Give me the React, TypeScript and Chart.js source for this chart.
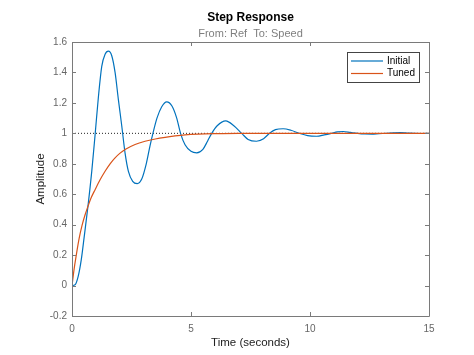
import React, { useEffect, useRef } from "react";
import { Chart, registerables } from "chart.js";

Chart.register(...registerables);

// ---- data ----
const timeInitial = [0, 0.13, 0.26, 0.39, 0.52, 0.67, 0.83, 0.97, 1.11, 1.25, 1.39, 1.53, 1.67, 1.81, 1.95, 2.09, 2.23, 2.37, 2.55, 2.74, 2.93, 3.12, 3.28, 3.4, 3.57, 3.77, 3.98, 4.2, 4.4, 4.56, 4.75, 5.0, 5.24, 5.5, 5.7, 5.87, 6.1, 6.46, 6.8, 7.13, 7.4, 7.75, 8.05, 8.3, 8.55, 8.87, 9.2, 9.55, 9.9, 10.28, 10.6, 10.9, 11.15, 11.4, 11.7, 12.0, 12.3, 12.6, 12.9, 13.2, 13.5, 13.8, 14.1, 14.4, 14.7, 15];
const ampInitial = [0, 0.005, 0.06, 0.17, 0.33, 0.52, 0.75, 0.99, 1.24, 1.44, 1.52, 1.54, 1.51, 1.4, 1.22, 1.05, 0.87, 0.75, 0.685, 0.67, 0.7, 0.8, 0.92, 1.0, 1.1, 1.175, 1.207, 1.18, 1.1, 1.0, 0.925, 0.882, 0.872, 0.895, 0.95, 1.0, 1.05, 1.082, 1.05, 1.0, 0.96, 0.948, 0.965, 1.0, 1.024, 1.03, 1.02, 1.0, 0.985, 0.981, 0.99, 1.0, 1.009, 1.012, 1.006, 1.0, 0.996, 0.995, 0.998, 1.0, 1.003, 1.004, 1.002, 1.0, 0.999, 1.0];
const timeTuned = [0, 0.09, 0.18, 0.3, 0.43, 0.55, 0.67, 0.8, 0.97, 1.18, 1.39, 1.6, 1.81, 2.02, 2.23, 2.65, 3.07, 3.5, 3.91, 4.33, 4.75, 5.3, 6.0, 7.0, 9.0, 12.0, 15.0];
const ampTuned = [0, 0.11, 0.2, 0.31, 0.4, 0.465, 0.52, 0.575, 0.63, 0.695, 0.751, 0.8, 0.839, 0.87, 0.894, 0.927, 0.948, 0.963, 0.974, 0.983, 0.99, 0.995, 0.998, 1.0, 1.0, 1.0, 1.0];
const steadyTime = [0, 15];
const steadyAmp = [1, 1];
const seriesNames = ["Initial", "Tuned"];
const xTickValues = [0, 5, 10, 15];
const yTickValues = [-0.2, 0, 0.2, 0.4, 0.6, 0.8, 1, 1.2, 1.4, 1.6];
const titleText = "Step Response";
const subtitleText = "From: Ref  To: Speed";
const xAxisTitle = "Time (seconds)";
const yAxisTitle = "Amplitude";

const BLUE = "#0072BD";
const ORANGE = "#D95319";
const FONT = "'Liberation Sans', Arial, Helvetica, sans-serif";

const toPoints = (xs: number[], ys: number[]) => xs.map((x, i) => ({ x, y: ys[i] }));

const framePlugin = {
  id: "matlabFrame",
  afterDatasetsDraw(chart: any) {
    const { ctx, chartArea } = chart;
    const { left, right, top, bottom } = chartArea;
    const xs = chart.scales.x;
    const ys = chart.scales.y;
    ctx.save();
    ctx.strokeStyle = "#7a7a7a";
    ctx.lineWidth = 1;
    ctx.beginPath();
    ctx.rect(Math.round(left) + 0.5, Math.round(top) + 0.5, Math.round(right - left), Math.round(bottom - top));
    ctx.stroke();
    const tl = 4;
    ctx.beginPath();
    xTickValues.forEach((v) => {
      const px = Math.round(xs.getPixelForValue(v)) + 0.5;
      ctx.moveTo(px, bottom);
      ctx.lineTo(px, bottom - tl);
      ctx.moveTo(px, top);
      ctx.lineTo(px, top + tl);
    });
    yTickValues.forEach((v) => {
      const py = Math.round(ys.getPixelForValue(v)) + 0.5;
      ctx.moveTo(left, py);
      ctx.lineTo(left + tl, py);
      ctx.moveTo(right, py);
      ctx.lineTo(right - tl, py);
    });
    ctx.stroke();

    // legend box
    const bx = 347.5, by = 52.5, bw = 72, bh = 30;
    ctx.fillStyle = "#ffffff";
    ctx.fillRect(bx, by, bw, bh);
    ctx.strokeStyle = "#444444";
    ctx.strokeRect(bx, by, bw, bh);
    const colors = [BLUE, ORANGE];
    const rows = [61, 73.5];
    ctx.font = `10px ${FONT}`;
    ctx.textBaseline = "middle";
    ctx.textAlign = "left";
    seriesNames.forEach((name, i) => {
      ctx.strokeStyle = colors[i];
      ctx.lineWidth = 1.2;
      ctx.beginPath();
      ctx.moveTo(351, rows[i]);
      ctx.lineTo(383, rows[i]);
      ctx.stroke();
      ctx.fillStyle = "#000000";
      ctx.fillText(name, 387, rows[i]);
    });

    // titles
    const cx = (left + right) / 2;
    ctx.textAlign = "center";
    ctx.fillStyle = "#000000";
    ctx.font = `bold 12px ${FONT}`;
    ctx.fillText(titleText, cx, 18);
    ctx.fillStyle = "#7f7f7f";
    ctx.font = `11px ${FONT}`;
    ctx.fillText(subtitleText, cx, 34);
    ctx.restore();
  },
};

export default function App() {
  const ref = useRef<HTMLCanvasElement | null>(null);
  useEffect(() => {
    document.body.style.margin = "0";
    const canvas = ref.current;
    if (!canvas) return;
    const chart = new Chart(canvas, {
      type: "line",
      data: {
        datasets: [
          {
            label: seriesNames[1],
            data: toPoints(timeTuned, ampTuned),
            borderColor: ORANGE,
            borderWidth: 1.2,
            pointRadius: 0,
            cubicInterpolationMode: "monotone",
            fill: false,
          },
          {
            label: seriesNames[0],
            data: toPoints(timeInitial, ampInitial),
            borderColor: BLUE,
            borderWidth: 1.2,
            pointRadius: 0,
            cubicInterpolationMode: "monotone",
            fill: false,
          },
          {
            label: "steady",
            data: toPoints(steadyTime, steadyAmp),
            borderColor: "#222222",
            borderWidth: 1,
            borderDash: [1, 2],
            pointRadius: 0,
            fill: false,
          },
        ],
      },
      options: {
        responsive: false,
        animation: false,
        parsing: true,
        layout: { padding: { top: 42, right: 45, left: 0, bottom: 0 } },
        plugins: {
          legend: { display: false },
          tooltip: { enabled: false },
          title: { display: false },
        },
        scales: {
          x: {
            type: "linear",
            min: 0,
            max: 15,
            grid: { display: false, drawTicks: false },
            border: { display: false },
            afterBuildTicks: (s: any) => {
              s.ticks = xTickValues.map((v) => ({ value: v }));
            },
            afterFit: (s: any) => {
              s.height = 39;
            },
            ticks: {
              padding: 7,
              color: "#666666",
              font: { family: FONT, size: 10 },
              maxRotation: 0,
              autoSkip: false,
              callback: (v: any) => String(v),
            },
            title: {
              display: true,
              text: xAxisTitle,
              color: "#222222",
              font: { family: FONT, size: 11.5 },
              padding: { top: 0, bottom: 5.6 },
            },
          },
          y: {
            type: "linear",
            min: -0.2,
            max: 1.6,
            grid: { display: false, drawTicks: false },
            border: { display: false },
            afterBuildTicks: (s: any) => {
              s.ticks = yTickValues.map((v) => ({ value: v }));
            },
            afterFit: (s: any) => {
              s.width = 72;
            },
            ticks: {
              padding: 5,
              color: "#666666",
              font: { family: FONT, size: 10 },
              autoSkip: false,
              callback: (v: any) => String(Number(Number(v).toFixed(1))),
            },
            title: {
              display: true,
              text: yAxisTitle,
              color: "#222222",
              font: { family: FONT, size: 11.5 },
              padding: { top: 34, bottom: 0 },
            },
          },
        },
      },
      plugins: [framePlugin],
    });
    return () => chart.destroy();
  }, []);
  return (
    <div style={{ width: 474, height: 355, background: "#ffffff" }}>
      <canvas ref={ref} width={474} height={355} style={{ display: "block" }} />
    </div>
  );
}
